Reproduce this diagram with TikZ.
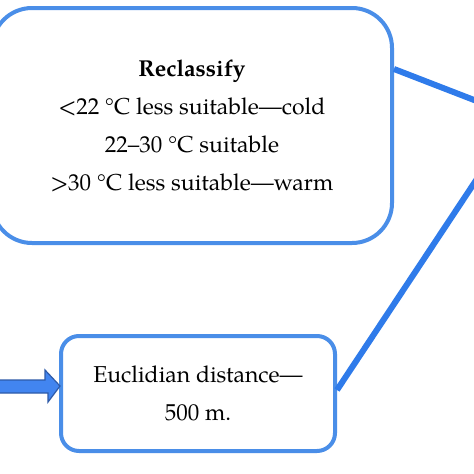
\documentclass[tikz,border=0pt]{standalone}
\usepackage{fontspec}
\setmainfont{TeX Gyre Pagella}
\usetikzlibrary{calc}
\definecolor{boxblue}{HTML}{4A8EE8}
\definecolor{lineblue}{HTML}{2F7BEA}
\definecolor{arrowfill}{HTML}{4285F0}
\definecolor{arrowedge}{HTML}{2E5AA8}
\tikzset{
  box/.style={draw=boxblue, line width=4pt, fill=white, inner sep=0pt, align=center,
    font=\fontsize{23}{38}\selectfont},
  conn/.style={draw=lineblue, line width=6pt},
  bigarrow/.style={fill=arrowfill, draw=arrowedge, line width=1.2pt, line join=miter}
}
\begin{document}
\begin{tikzpicture}[x=1pt,y=-1pt]
\useasboundingbox (0,0) rectangle (474,474);
\clip (0,0) rectangle (474,474);
\fill[white] (0,0) rectangle (474,474);
\coordinate (join) at (518,117);
\coordinate (src) at (-10,386.5);
\node[box, rounded corners=40pt, minimum width=400pt, minimum height=235pt] (recl) at (192,125.5)
  {\textbf{Reclassify}\\<22 °C less suitable—cold\\22–30 °C suitable\\>30 °C less suitable—warm};
\node[box, rounded corners=18pt, minimum width=274pt, minimum height=115pt] (euc) at (198,393.5)
  {Euclidian distance—\\500 m.};
\draw[conn] ([yshift=56.5pt]recl.east) -- (join);
\draw[conn] ([yshift=3.5pt]euc.east) -- (join);
\coordinate (tip) at ([yshift=7.5pt,xshift=1pt]euc.west);
\draw[bigarrow] (tip) -- ++(-15,-16) -- ++(0,10) -- (src |- 0,380) -- (src |- 0,393) -- ++(58,0) -- ++(0,9) -- cycle;
\end{tikzpicture}
\end{document}
